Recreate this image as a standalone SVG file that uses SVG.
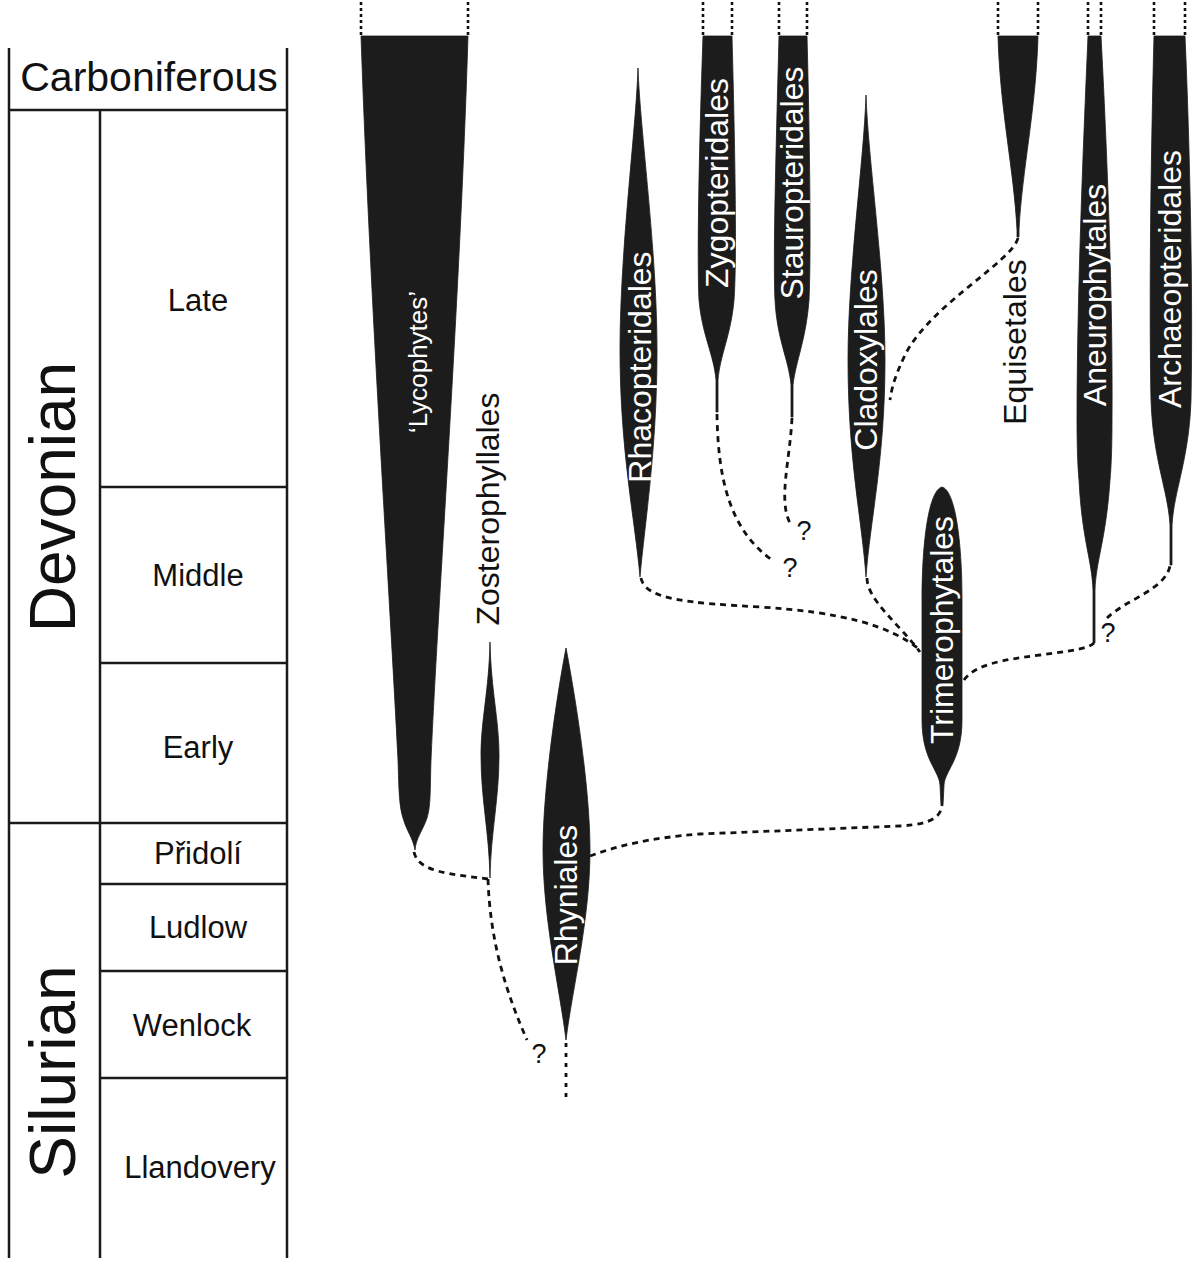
<svg xmlns="http://www.w3.org/2000/svg" width="1197" height="1264" viewBox="0 0 1197 1264">
<style>
.grid{stroke:#1a1a1a;stroke-width:2.5;fill:none}
.t{font-family:"Liberation Sans",Arial,sans-serif;fill:#111}
.big{font-size:64px}
.per{font-size:31px;text-anchor:middle}
.lab{font-size:32px;text-anchor:middle}
.w{fill:#fff}
.q{font-size:27px;text-anchor:middle}
.clade{fill:#1c1c1c;stroke:#1c1c1c;stroke-width:0.8}
.dash{fill:none;stroke:#111;stroke-width:2.8;stroke-dasharray:6 5}
.dot{fill:none;stroke:#111;stroke-width:2.6;stroke-dasharray:3 3}
.sdot{fill:none;stroke:#111;stroke-width:2.8;stroke-dasharray:4 6}
</style>
<rect width="1197" height="1264" fill="#fff"/>
<g id="timescale">
<path class="grid" d="M9 48V1258M287 48V1258M100 110V1258M9 110H287M100 487H287M100 663H287M9 823H287M100 884H287M100 971H287M100 1078H287"/>
<text class="t" x="149" y="91" font-size="41" text-anchor="middle">Carboniferous</text>
<text class="t big" text-anchor="middle" transform="translate(75 497) rotate(-90)">Devonian</text>
<text class="t big" text-anchor="middle" transform="translate(75 1072) rotate(-90)">Silurian</text>
<text class="t per" x="198" y="311">Late</text>
<text class="t per" x="198" y="586">Middle</text>
<text class="t per" x="198" y="758">Early</text>
<text class="t per" x="198" y="864">Přidolí</text>
<text class="t per" x="198" y="938">Ludlow</text>
<text class="t per" x="192" y="1036">Wenlock</text>
<text class="t per" x="200" y="1178">Llandovery</text>
</g>
<g id="connectors">
<path class="dot" d="M361 2V36M468 2V36M703 2V36M732 2V36M779 2V36M807 2V36M998 2V36M1038 2V36M1088 2V36M1101 2V36M1154 2V36M1185 2V36"/>
<path class="dash" d="M414 852C418 872 450 874 488 879"/>
<path class="dash" d="M488 879C490 940 505 990 527 1040"/>
<path class="sdot" d="M566 1043V1100"/>
<path class="dash" d="M590 856C620 845 650 838 700 834L900 826C935 824 941 815 942 805"/>
<path class="dash" d="M641 578C645 600 690 603 760 607C840 612 890 625 920 650"/>
<path class="dash" d="M867 578C867 600 900 625 920 652"/>
<path class="dash" d="M964 680C975 665 1000 660 1040 655C1070 651 1088 649 1094 643"/>
<path class="dash" d="M1107 618C1125 600 1165 590 1170 566"/>
<path class="dash" d="M1018 238C1012 262 930 305 905 355C897 372 892 385 890 400"/>
<path class="dash" d="M717 414C718 480 730 530 772 560"/>
<path class="dash" d="M792 418C790 460 778 500 790 523"/>
<text class="t q" x="790" y="577">?</text>
<text class="t q" x="804" y="540">?</text>
<text class="t q" x="539" y="1063">?</text>
<text class="t q" x="1108" y="642">?</text>
</g>
<g id="lycophytes">
<path class="clade" d="M361 36L468 36C460 300 438 600 431 760C430 790 431 805 427 818C422 832 416 838 415 850C413 838 407 832 403 818C399 805 399 790 398 760C390 600 370 300 361 36Z"/>
<text class="t w" font-size="26" text-anchor="middle" transform="translate(427 362) rotate(-90)">‘Lycophytes’</text>
</g>
<g id="zosterophyllales">
<path class="clade" d="M490 642C491 690 499 720 499 755C499 800 491 830 490 878C489 830 481 800 481 755C481 720 489 690 490 642Z"/>
<text class="t lab" transform="translate(499 509) rotate(-90)">Zosterophyllales</text>
</g>
<g id="rhyniales">
<path class="clade" d="M566 648C576 700 590 790 590 850C590 920 572 990 566 1040C560 990 543 920 543 850C543 790 556 700 566 648Z"/>
<text class="t lab w" transform="translate(577 895) rotate(-90)">Rhyniales</text>
</g>
<g id="rhacopteridales">
<path class="clade" d="M638 68C640 130 657 250 657 350C657 450 645 520 640 577C635 520 620 450 620 350C620 250 636 130 638 68Z"/>
<text class="t lab w" transform="translate(651 367) rotate(-90)">Rhacopteridales</text>
</g>
<g id="zygopteridales">
<path class="clade" d="M703 36L732 36C735 150 737 260 734 300C731 335 720 355 718 380L718 412L716 412L716 380C714 355 702 335 699 300C697 260 699 150 703 36Z"/>
<text class="t lab w" transform="translate(728 183) rotate(-90)">Zygopteridales</text>
</g>
<g id="stauropteridales">
<path class="clade" d="M779 36L807 36C810 150 811 260 809 300C806 340 796 360 793 385L793 417L791 417L791 385C789 360 777 340 775 300C773 260 776 150 779 36Z"/>
<text class="t lab w" transform="translate(803 183) rotate(-90)">Stauropteridales</text>
</g>
<g id="cladoxylales">
<path class="clade" d="M866 95C868 160 885 270 885 360C885 460 870 520 866 577C862 520 848 460 848 360C848 270 864 160 866 95Z"/>
<text class="t lab w" transform="translate(877 360) rotate(-90)">Cladoxylales</text>
</g>
<g id="trimerophytales">
<path class="clade" d="M942 487C955 490 962 540 962 600L962 720C962 760 945 770 944 785L943 805L941 805L940 785C939 770 922 760 922 720L922 600C922 540 929 490 942 487Z"/>
<text class="t lab w" transform="translate(953 630) rotate(-90)">Trimerophytales</text>
</g>
<g id="equisetales">
<path class="clade" d="M998 36L1038 36C1036 110 1022 170 1019 230L1019 237L1017 237L1017 230C1014 170 1000 110 998 36Z"/>
<text class="t lab" transform="translate(1026 342) rotate(-90)">Equisetales</text>
</g>
<g id="aneurophytales">
<path class="clade" d="M1088 36L1101 36C1107 150 1113 300 1112 420C1112 450 1111 470 1110 480C1106 540 1096 560 1095 590L1095 643L1093 643L1093 590C1092 560 1082 540 1079 480C1078 470 1077 450 1077 420C1077 300 1083 150 1088 36Z"/>
<text class="t lab w" transform="translate(1106 295) rotate(-90)">Aneurophytales</text>
</g>
<g id="archaeopteridales">
<path class="clade" d="M1154 36L1185 36C1190 150 1193 300 1191 400C1189 460 1174 490 1172 525L1172 565L1170 565L1170 525C1168 490 1153 460 1151 400C1149 300 1151 150 1154 36Z"/>
<text class="t lab w" transform="translate(1181 279) rotate(-90)">Archaeopteridales</text>
</g>
</svg>
